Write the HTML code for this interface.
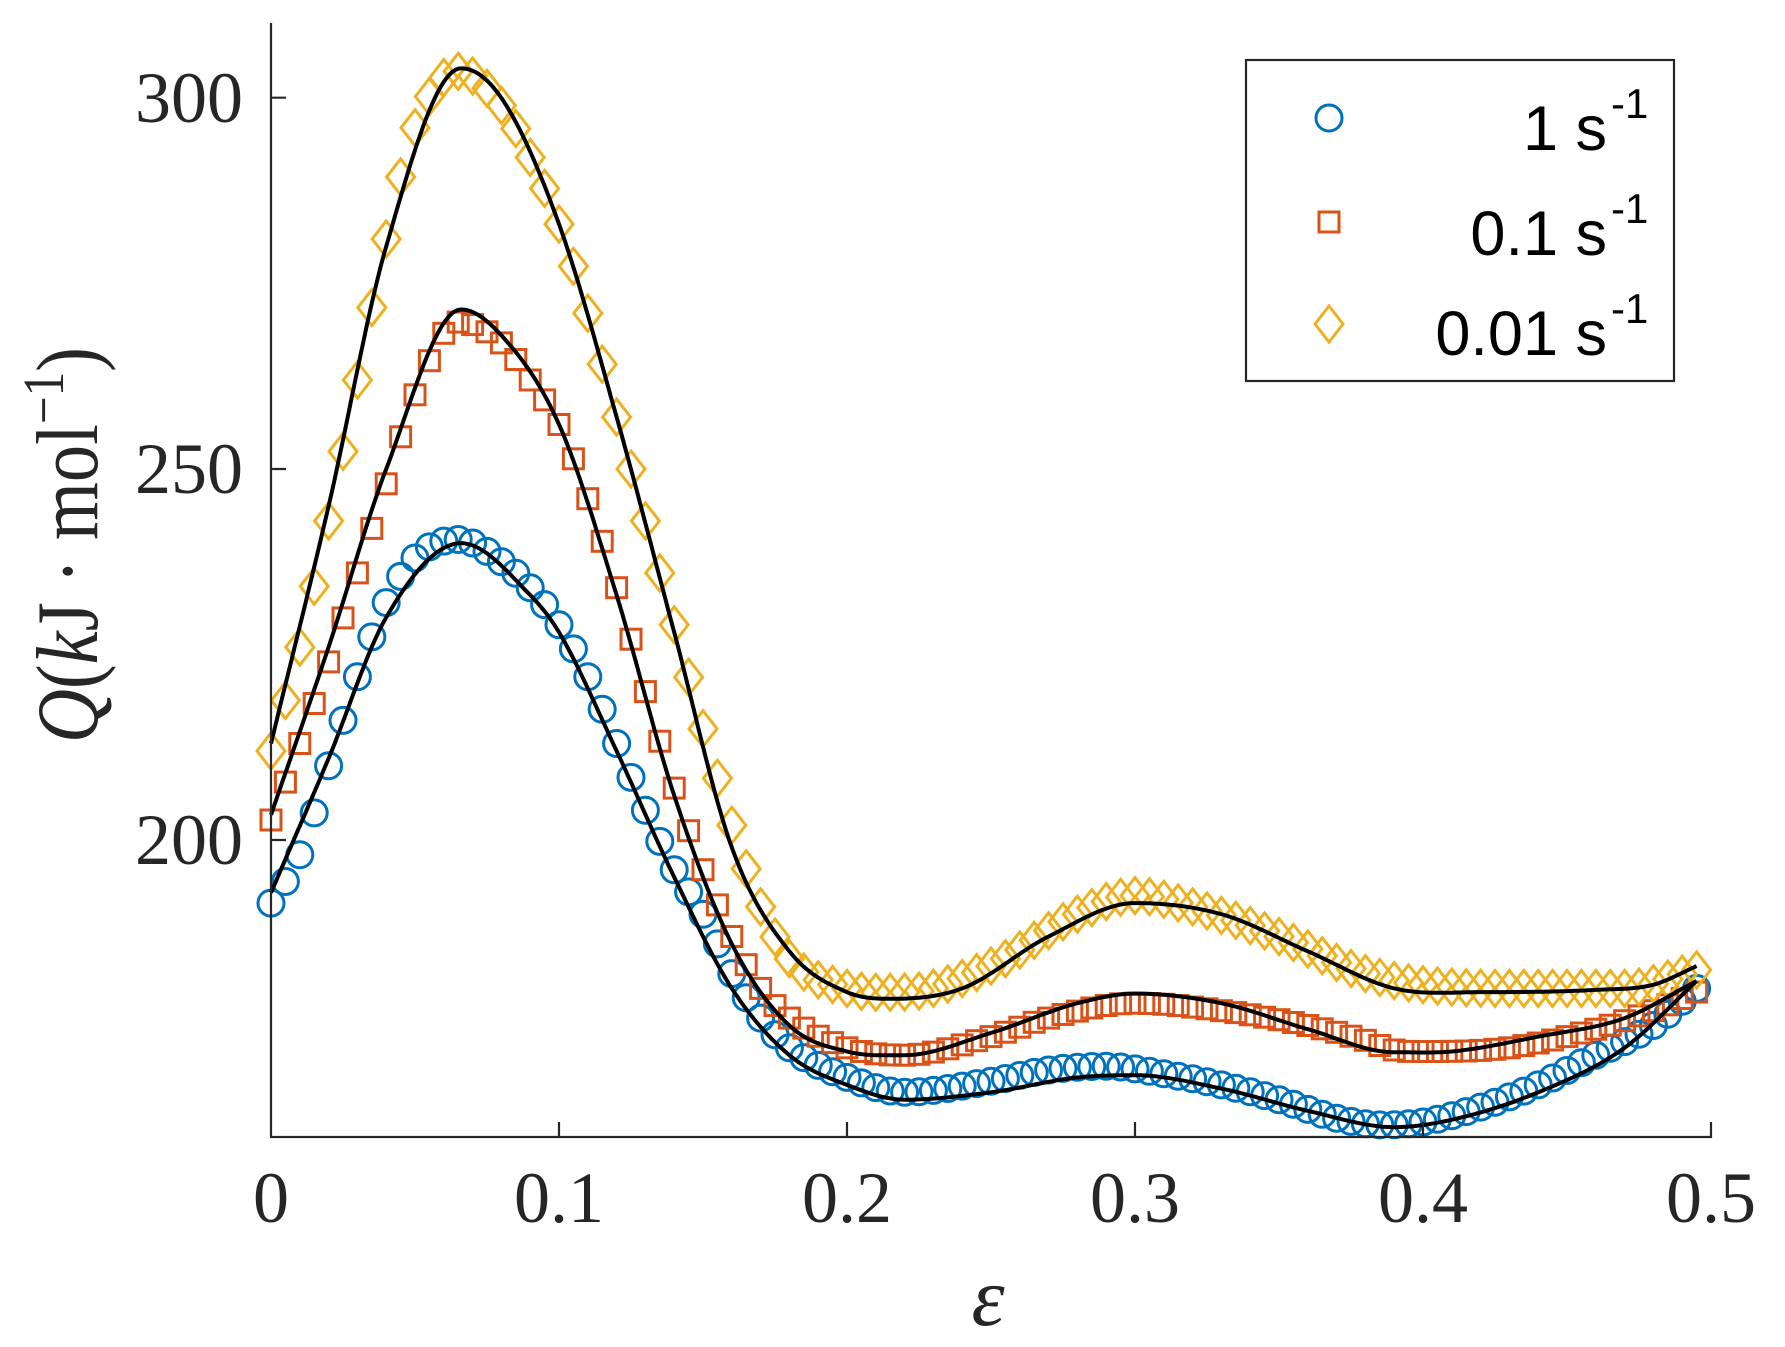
<!DOCTYPE html>
<html><head><meta charset="utf-8"><style>
html,body{margin:0;padding:0;background:#fff;}
svg{display:block;}
</style></head><body>
<svg id="s" width="1785" height="1347" xmlns="http://www.w3.org/2000/svg">
<rect width="1785" height="1347" fill="#fff"/>
<g id="plot"></g>
<g stroke="#262626" stroke-width="2.2" fill="none">
<path d="M271,23 V1137 H1711 V1122"/>
<path d="M271,97.7 h15 M271,469 h15 M271,840 h15"/>
<path d="M559,1137 v-15 M847,1137 v-15 M1135,1137 v-15 M1423,1137 v-15"/>
</g>
<g font-family="Liberation Serif, serif" font-size="72" fill="#262626">
<text x="243" y="122" text-anchor="end">300</text>
<text x="243" y="493" text-anchor="end">250</text>
<text x="243" y="864" text-anchor="end">200</text>
<g text-anchor="middle">
<text x="271" y="1222">0</text>
<text x="559" y="1222">0.1</text>
<text x="847" y="1222">0.2</text>
<text x="1135" y="1222">0.3</text>
<text x="1423" y="1222">0.4</text>
<text x="1711" y="1222">0.5</text>
</g>
<text x="988" y="1325" font-style="italic" font-size="84" text-anchor="middle">ε</text>
<text transform="translate(97,545) rotate(-90)" text-anchor="middle" font-size="88" textLength="396" lengthAdjust="spacingAndGlyphs"><tspan font-style="italic">Q</tspan>(<tspan font-style="italic">k</tspan>J · mol<tspan font-size="58" dy="-34">−1</tspan><tspan dy="34">)</tspan></text>
</g>
<rect x="1246" y="60" width="428" height="321" fill="#fff" stroke="#262626" stroke-width="2.2"/>
<circle cx="1329" cy="118" r="13" fill="none" stroke="#0072BD" stroke-width="3"/>
<rect x="1319" y="212" width="20" height="20" fill="none" stroke="#D95319" stroke-width="3"/>
<path d="M1329,306 L1343,324 L1329,342 L1315,324 Z" fill="none" stroke="#EDB120" stroke-width="3"/>
<g font-family="Liberation Sans, sans-serif" font-size="63" fill="#000" text-anchor="end">
<text x="1607" y="150">1 s</text>
<text x="1607" y="255">0.1 s</text>
<text x="1607" y="355">0.01 s</text>
</g>
<g font-family="Liberation Sans, sans-serif" font-size="42" fill="#000" text-anchor="start">
<text x="1611" y="118">-1</text>
<text x="1611" y="223">-1</text>
<text x="1611" y="323">-1</text>
</g>
</svg>
<script>
function interp(k){
 var n=k.length,xs=k.map(a=>a[0]),ys=k.map(a=>a[1]),m=[];
 for(var i=0;i<n;i++){
  if(i==0)m.push((ys[1]-ys[0])/(xs[1]-xs[0]));
  else if(i==n-1)m.push((ys[n-1]-ys[n-2])/(xs[n-1]-xs[n-2]));
  else{var d0=(ys[i]-ys[i-1])/(xs[i]-xs[i-1]),d1=(ys[i+1]-ys[i])/(xs[i+1]-xs[i]);m.push(d0*d1<=0?0:(d0+d1)/2);}
 }
 return function(x){
  var i=0;while(i<n-2&&x>xs[i+1])i++;
  var h=xs[i+1]-xs[i],t=(x-xs[i])/h,t2=t*t,t3=t2*t;
  return (2*t3-3*t2+1)*ys[i]+(t3-2*t2+t)*h*m[i]+(-2*t3+3*t2)*ys[i+1]+(t3-t2)*h*m[i+1];
 };
}
var PX=x=>271+x*2880, PY=y=>840-(y-200)*7.42;
var blue=[[0,191.5],[0.01,198],[0.02,210],[0.03,222],[0.04,232],[0.05,238],[0.065,240.5],[0.08,237.5],[0.09,234],[0.1,229],[0.11,222],[0.12,213],[0.13,204],[0.14,196],[0.15,190],[0.16,182],[0.17,176],[0.18,172],[0.2,168],[0.22,166],[0.25,167.5],[0.27,169],[0.29,169.5],[0.31,168.5],[0.33,167],[0.35,165],[0.37,162.5],[0.386,161.6],[0.4,162],[0.42,164],[0.44,167],[0.46,171],[0.48,175],[0.495,180]];
var blueL=[[0,192.9],[0.02,211],[0.04,230],[0.066,240],[0.09,233],[0.1,228],[0.12,212],[0.14,195],[0.16,180],[0.18,171],[0.2,167],[0.22,165],[0.25,166],[0.28,168],[0.3,168.3],[0.33,166.5],[0.36,163.5],[0.39,161.3],[0.41,162.3],[0.44,166],[0.47,172],[0.495,181]];
var red=[[0,202.7],[0.01,213],[0.02,224],[0.03,236],[0.04,248],[0.05,260],[0.065,269.8],[0.08,267],[0.09,262],[0.1,256],[0.11,246],[0.12,234],[0.13,220],[0.14,207],[0.15,196],[0.16,187],[0.17,180],[0.18,176],[0.2,172],[0.22,171],[0.25,173.5],[0.27,176],[0.3,178],[0.33,177],[0.36,175],[0.38,173],[0.39,171.7],[0.4,171.5],[0.43,172],[0.46,174.5],[0.48,177],[0.495,179.5]];
var redL=[[0,203.4],[0.02,226],[0.04,250],[0.066,271.5],[0.08,268],[0.1,256],[0.12,233],[0.14,206],[0.16,186],[0.18,175],[0.2,171.5],[0.22,171],[0.25,174],[0.28,178],[0.3,179.3],[0.33,178],[0.36,174.5],[0.39,171.4],[0.41,171.5],[0.44,173.5],[0.47,176],[0.495,181]];
var yel=[[0,212],[0.01,226],[0.02,243],[0.03,262],[0.04,281],[0.05,296],[0.065,303.6],[0.08,299],[0.09,292],[0.1,283],[0.11,271],[0.12,257],[0.13,243],[0.14,229],[0.15,215],[0.16,202],[0.17,191],[0.18,184],[0.2,180],[0.22,179.5],[0.25,183],[0.28,190],[0.3,192.5],[0.32,191],[0.35,187],[0.38,182],[0.4,180.5],[0.44,180],[0.47,180],[0.495,182.5]];
var yelL=[[0,213],[0.02,245],[0.04,280],[0.066,304],[0.08,300],[0.1,283],[0.12,257],[0.14,228],[0.16,199],[0.18,185],[0.2,179.5],[0.215,178.6],[0.24,180],[0.27,187],[0.3,191.5],[0.33,190],[0.36,185],[0.39,180],[0.42,179.5],[0.46,179.8],[0.48,180.5],[0.495,183]];
var g=document.getElementById('plot'),h='';
function markers(k,type){
 var f=interp(k),s='';
 for(var i=0;i<=99;i++){var x=i*0.005,cx=PX(x),cy=PY(f(x));
  if(type=='c')s+='<circle cx="'+cx.toFixed(1)+'" cy="'+cy.toFixed(1)+'" r="13"/>';
  else if(type=='s')s+='<rect x="'+(cx-10).toFixed(1)+'" y="'+(cy-10).toFixed(1)+'" width="20" height="20"/>';
  else s+='<path d="M'+cx.toFixed(1)+','+(cy-18).toFixed(1)+' l14,18 l-14,18 l-14,-18 z"/>';
 }
 return s;
}
function line(k){var f=interp(k),d='';for(var i=0;i<=495;i++){var x=i*0.001;d+=(i?'L':'M')+PX(x).toFixed(1)+','+PY(f(x)).toFixed(1);}return '<path d="'+d+'" fill="none" stroke="#000" stroke-width="4" stroke-linejoin="round"/>';}
h+='<g fill="none" stroke="#0072BD" stroke-width="3">'+markers(blue,'c')+'</g>';
h+='<g fill="none" stroke="#D95319" stroke-width="3">'+markers(red,'s')+'</g>';
h+='<g fill="none" stroke="#EDB120" stroke-width="3">'+markers(yel,'d')+'</g>';
h+=line(blueL)+line(redL)+line(yelL);
g.innerHTML=h;
</script>
</body></html>
